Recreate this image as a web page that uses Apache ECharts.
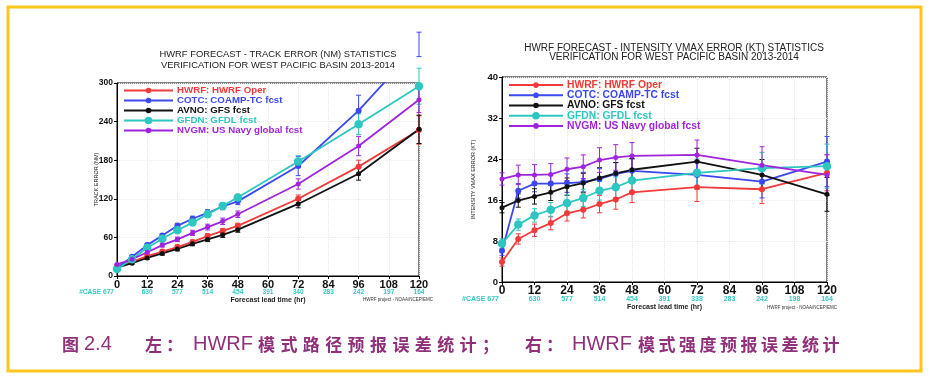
<!DOCTYPE html>
<html><head><meta charset="utf-8">
<script src="https://cdn.jsdelivr.net/npm/echarts@6/dist/echarts.min.js"></script>
<style>html,body{margin:0;padding:0;background:#fff}#c{width:930px;height:381px}</style>
</head><body><div id="c"></div><script>
// ---------- data ----------
const hours = [0, 6, 12, 18, 24, 30, 36, 42, 48, 72, 96, 120];
const modelNames = ['HWRF: HWRF Oper', 'COTC: COAMP-TC fcst', 'AVNO: GFS fcst', 'GFDN: GFDL fcst', 'NVGM: US Navy global fcst'];

// Track error (NM)
const trackHWRF = [15, 22, 31, 38, 45, 53, 62, 70, 78, 120, 170, 227];
const trackCOTC = [12, 30, 48, 63, 78, 89, 98, 108, 116, 171, 257, 360];
const trackAVNO = [13, 20, 28, 35, 42, 50, 57, 64, 72, 112, 159, 228];
const trackGFDN = [11, 26, 44, 58, 71, 83, 96, 109, 122, 178, 236, 295];
const trackNVGM = [18, 26, 37, 48, 57, 67, 76, 85, 96, 143, 202, 274];
const trackErrHWRF = [1, 1.5, 2, 2.5, 3, 3, 3.5, 4, 4, 6, 10, 22];
const trackErrCOTC = [1, 2, 3, 3, 4, 4, 5, 5, 5, 15, 24, 19];
const trackErrAVNO = [1, 1.5, 2, 2.5, 3, 3, 3.5, 4, 4, 6, 10, 22];
const trackErrGFDN = [1, 2, 3, 3, 4, 4, 5, 5, 5, 9, 16, 28];
const trackErrNVGM = [1, 2, 2.5, 3, 3.5, 4, 4.5, 5, 5, 8, 15, 20];

// Case counts below the x axis
const caseHours = [0, 12, 24, 36, 48, 60, 72, 84, 96, 108, 120];
const trackCases = [677, 630, 577, 514, 454, 391, 340, 283, 242, 197, 164];

// Intensity Vmax error (KT)
const intHWRF = [3.9, 8.4, 10.1, 11.5, 13.4, 14.1, 15.2, 16.1, 17.5, 18.5, 18.1, 21.3];
const intCOTC = [6.1, 17.8, 19.2, 19.2, 19.3, 19.5, 20.1, 21.1, 21.7, 20.9, 19.6, 23.5];
const intAVNO = [14.5, 15.9, 16.7, 17.5, 18.6, 19.3, 20.3, 21.2, 21.9, 23.5, 20.9, 17.1];
const intGFDN = [7.5, 11.2, 13.0, 14.1, 15.4, 16.4, 17.8, 18.5, 19.8, 21.3, 22.2, 22.6];
const intNVGM = [20.1, 20.9, 20.9, 21.0, 22.0, 22.5, 23.8, 24.3, 24.6, 24.8, 22.8, 20.9];
const intErrHWRF = [0.8, 1.0, 1.2, 1.3, 1.5, 1.6, 1.7, 1.9, 2.0, 2.8, 2.8, 3.5];
const intErrCOTC = [0.9, 1.4, 1.6, 1.7, 1.8, 1.9, 2.0, 2.2, 2.3, 2.8, 3.2, 4.9];
const intErrAVNO = [1.0, 1.3, 1.5, 1.6, 1.7, 1.9, 2.0, 2.1, 2.2, 2.6, 3.0, 3.3];
const intErrGFDN = [0.9, 1.1, 1.3, 1.4, 1.6, 1.7, 1.8, 2.0, 2.1, 2.7, 3.1, 4.3];
const intErrNVGM = [1.2, 1.9, 2.0, 2.1, 2.2, 2.3, 2.4, 2.5, 2.6, 2.9, 3.6, 4.0];
const intCases = [677, 630, 577, 514, 454, 391, 338, 283, 242, 198, 164];

const trackTicksY = [0, 60, 120, 180, 240, 300];
const intTicksY = [0, 8, 16, 24, 32, 40];

const leftTitle = 'HWRF FORECAST - TRACK ERROR (NM) STATISTICS\nVERIFICATION FOR WEST PACIFIC BASIN 2013-2014';
const rightTitle = 'HWRF FORECAST - INTENSITY VMAX ERROR (KT) STATISTICS\nVERIFICATION FOR WEST PACIFIC BASIN 2013-2014';
const captionParts = ['图', '2.4', '左：', 'HWRF', '模式路径预报误差统计；', '右：', 'HWRF', '模式强度预报误差统计'];

// ---------- style ----------
const colors = ['#F23A3A', '#3A48EE', '#111111', '#2EC6C0', '#A024DE'];
const symSizes = [6, 6, 5, 7, 5];
const FONT = 'Liberation Sans';
const caseColor = '#35C8C6';

const trackSets = [[trackHWRF, trackErrHWRF], [trackCOTC, trackErrCOTC], [trackAVNO, trackErrAVNO], [trackGFDN, trackErrGFDN], [trackNVGM, trackErrNVGM]];
const intSets = [[intHWRF, intErrHWRF], [intCOTC, intErrCOTC], [intAVNO, intErrAVNO], [intGFDN, intErrGFDN], [intNVGM, intErrNVGM]];

function errSeries(xi, yi, vals, errs, color) {
  return {
    type: 'custom', xAxisIndex: xi, yAxisIndex: yi, silent: true, clip: false, z: 2,
    data: hours.map((h, i) => [h, vals[i], errs[i]]),
    encode: { x: 0, y: 1 },
    renderItem: function (params, api) {
      const x = api.value(0), y = api.value(1), e = api.value(2);
      const t = api.coord([x, y + e]), b = api.coord([x, y - e]);
      const w = 2.5;
      const st = { stroke: color, lineWidth: 1 };
      return { type: 'group', children: [
        { type: 'line', shape: { x1: t[0], y1: t[1], x2: b[0], y2: b[1] }, style: st },
        { type: 'line', shape: { x1: t[0] - w, y1: t[1], x2: t[0] + w, y2: t[1] }, style: st },
        { type: 'line', shape: { x1: b[0] - w, y1: b[1], x2: b[0] + w, y2: b[1] }, style: st }
      ] };
    }
  };
}
function lineSeries(xi, yi, vals, k) {
  return {
    type: 'line', name: modelNames[k], xAxisIndex: xi, yAxisIndex: yi, clip: true, z: 3,
    data: hours.map((h, i) => [h, vals[i]]),
    symbol: 'circle', symbolSize: symSizes[k], showAllSymbol: true,
    lineStyle: { color: colors[k], width: 1.8 },
    itemStyle: { color: colors[k], borderColor: colors[k], borderWidth: k === 3 ? 1.5 : 0 },
    emphasis: { disabled: true }
  };
}
function caseSeries(xi, yi, cases, fs, dy) {
  return {
    type: 'custom', xAxisIndex: xi, yAxisIndex: yi, silent: true, clip: false, z: 4,
    data: caseHours.map((h, i) => [h, 0, cases[i]]),
    encode: { x: 0, y: 1 },
    renderItem: function (params, api) {
      const p = api.coord([api.value(0), 0]);
      const first = params.dataIndex === 0;
      return { type: 'text', x: first ? p[0] - 3 : p[0], y: p[1] + dy,
        style: { text: (first ? '#CASE ' : '') + api.value(2), fill: caseColor,
          font: 'bold ' + fs + 'px "Liberation Sans"', textAlign: first ? 'right' : 'center', textVerticalAlign: 'middle' } };
    }
  };
}

const series = [];
trackSets.forEach((s, k) => { series.push(errSeries(0, 0, s[0], s[1], colors[k])); });
trackSets.forEach((s, k) => { series.push(lineSeries(0, 0, s[0], k)); });
intSets.forEach((s, k) => { series.push(errSeries(1, 1, s[0], s[1], colors[k])); });
intSets.forEach((s, k) => { series.push(lineSeries(1, 1, s[0], k)); });
series.push(caseSeries(0, 0, trackCases, 6.6, 16));
series.push(caseSeries(1, 1, intCases, 7, 17.5));

function mainX(gi, fs, gap) {
  return {
    type: 'value', gridIndex: gi, min: 0, max: 120, interval: 12, position: 'bottom',
    axisLine: { show: true, lineStyle: { color: '#000', width: 1 } },
    axisTick: { show: true, length: 3, lineStyle: { color: '#000' } },
    axisLabel: { fontFamily: FONT, fontWeight: 'bold', fontSize: fs, color: '#111', margin: 3 },
    splitLine: { show: true, lineStyle: { color: '#e6e6e6', type: 'dotted' } },
    name: 'Forecast lead time (hr)', nameLocation: 'middle', nameGap: gap,
    nameTextStyle: { fontFamily: FONT, fontSize: 7, fontWeight: 'bold', color: '#222' }
  };
}
function yAx(gi, max, interval, name, fs, gap, moveOverlap) {
  return {
    type: 'value', gridIndex: gi, min: 0, max: max, interval: interval,
    axisLine: { show: true, lineStyle: { color: '#000', width: 1 } },
    axisTick: { show: true, length: 3, lineStyle: { color: '#000' } },
    axisLabel: { fontFamily: FONT, fontWeight: 'bold', fontSize: fs, color: '#111', margin: 4 },
    splitLine: { show: true, lineStyle: { color: '#ececec', type: 'dotted' } },
    name: name, nameLocation: 'middle', nameGap: gap, nameRotate: 90, nameMoveOverlap: moveOverlap,
    nameTextStyle: { fontFamily: FONT, fontSize: 5.5, color: '#222' }
  };
}
function legend(left, top, fs, w, lh) {
  return {
    left: left, top: top, orient: 'vertical', itemWidth: w, itemHeight: 7, itemGap: 0,
    selectedMode: false, padding: 0,
    textStyle: { fontFamily: FONT, fontSize: fs, fontWeight: 'bold', lineHeight: lh, padding: [0, 0, 0, -1] },
    data: modelNames.map((n, i) => ({ name: n, textStyle: { color: colors[i] } }))
  };
}

// caption graphic (layout only)
const capColor = '#91307A';
const capGraphics = [];
function placeChars(str, x0, pitch, fs) {
  for (let i = 0; i < str.length; i++) {
    capGraphics.push({ type: 'text', left: x0 + i * pitch, top: 336,
      style: { text: str[i], font: 'bold ' + fs + 'px "Noto Sans CJK SC"', fill: capColor } });
  }
}
function placeLatin(str, x0, fs) {
  capGraphics.push({ type: 'text', left: x0, top: 334,
    style: { text: str, font: fs + 'px "Liberation Sans"', fill: capColor } });
}
placeChars(captionParts[0], 62, 20, 17);
placeLatin(captionParts[1], 84, 20);
placeChars(captionParts[2], 145, 21, 17);
placeLatin(captionParts[3], 193, 20);
placeChars(captionParts[4], 258, 22.4, 17);
placeChars(captionParts[5], 525, 21, 17);
placeLatin(captionParts[6], 572, 20);
placeChars(captionParts[7], 638, 20.5, 17);

const option = {
  animation: false,
  backgroundColor: '#fff',
  title: [
    { text: leftTitle, left: 273, top: 44.5, textAlign: 'center',
      textStyle: { fontFamily: FONT, fontSize: 9.4, fontWeight: 'normal', color: '#222', lineHeight: 10.7 } },
    { text: rightTitle, left: 669, top: 38, textAlign: 'center',
      textStyle: { fontFamily: FONT, fontSize: 10, fontWeight: 'normal', color: '#222', lineHeight: 9.5 } }
  ],
  grid: [
    { left: 117, top: 83, width: 302, height: 193, show: true, borderColor: '#000', borderWidth: 1, backgroundColor: 'transparent' },
    { left: 502, top: 77, width: 325, height: 205, show: true, borderColor: '#000', borderWidth: 1, backgroundColor: 'transparent' }
  ],
  xAxis: [mainX(0, 11, 21), mainX(1, 12, 21.5)],
  yAxis: [
    yAx(0, trackTicksY[trackTicksY.length - 1], trackTicksY[1] - trackTicksY[0], 'TRACK ERROR (NM)', 8.5, 18, false),
    yAx(1, intTicksY[intTicksY.length - 1], intTicksY[1] - intTicksY[0], 'INTENSITY VMAX ERROR (KT)', 9.5, 26, true)
  ],
  legend: [legend(123, 85.5, 9.7, 49, 9.5), legend(508, 80, 10.3, 54, 10.2)],
  series: series,
  graphic: [
    { type: 'rect', shape: { x: 8, y: 7, width: 913, height: 364 }, style: { fill: 'none', stroke: '#FFC61E', lineWidth: 3 }, z: 10 },
    { type: 'text', right: 930 - 433, top: 297, style: { text: 'HWRF project - NOAA/NCEP/EMC', font: '4.5px "Liberation Sans"', fill: '#333' } },
    { type: 'text', right: 930 - 837, top: 305, style: { text: 'HWRF project - NOAA/NCEP/EMC', font: '4.5px "Liberation Sans"', fill: '#333' } }
  ].concat(capGraphics)
};

const chart = echarts.init(document.getElementById('c'), null, { renderer: 'canvas' });
chart.setOption(option);
</script></body></html>
